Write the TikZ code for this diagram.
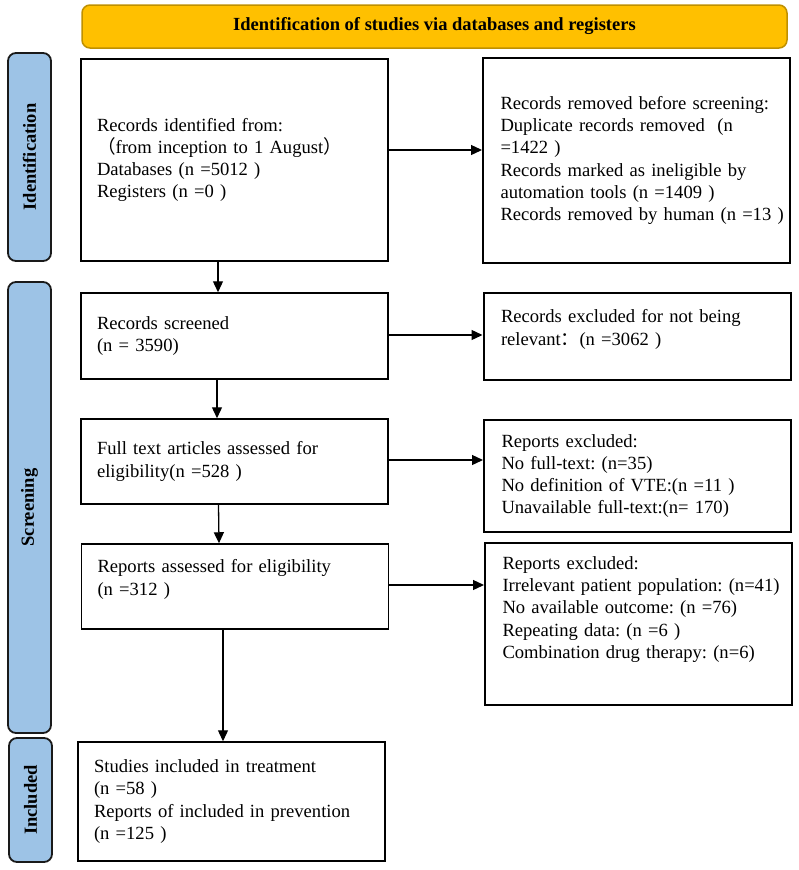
\documentclass[tikz,border=0pt]{standalone}
\usepackage{fontspec}
\setmainfont{Liberation Serif}
\newfontfamily\cjk{Noto Sans CJK SC}
\usetikzlibrary{arrows.meta}
\definecolor{labblue}{HTML}{9DC3E6}
\definecolor{bannergold}{HTML}{FFC000}
\definecolor{bannerline}{HTML}{BF9000}
\definecolor{labline}{HTML}{1A1A1A}
\frenchspacing
\begin{document}
\begin{tikzpicture}[x=1pt,y=-1pt,
  box/.style={draw=black, line width=1.5pt, fill=white, align=left,
    inner xsep=16pt, inner ysep=0pt, text width=275pt, minimum height=#1,
    font=\fontsize{18.6}{22.2}\selectfont},
  rbox/.style={box=#1, line width=2pt, inner xsep=17.5pt, text width=272pt},
  lab/.style={draw=labline, line width=1.8pt, fill=labblue, rounded corners=8pt,
    rotate=90, minimum width=#1, minimum height=43pt, inner sep=0pt,
    font=\fontsize{18.5}{20}\selectfont\bfseries},
  banner/.style={draw=bannerline, line width=1.5pt, fill=bannergold, rounded corners=8pt,
    minimum width=705pt, minimum height=43pt, inner sep=0pt,
    font=\fontsize{18.5}{20}\selectfont\bfseries},
  arr/.style={line width=1.3pt, -{Triangle[length=11pt,width=10pt]}}
]
\useasboundingbox (0,0) rectangle (799,870);

\node[banner] (ban) at (434.5,26.5) {Identification of studies via databases and registers};

\node[lab=208pt] (idlab) at (29.5,157) {Identification};
\node[lab=451pt] (scrlab) at (29.5,507.5) {Screening};
\node[lab=124pt] (inclab) at (30.5,800) {Included};

\node[box=202pt] (ident) at (234.5,160) {Records identified from:\\
\mbox{{\cjk （}from inception to 1 August{\cjk ）}}\\
Databases (n =5012 )\\
Registers (n =0 )};

\node[rbox=205pt] (removed) at (636.5,160.5) {\mbox{Records removed before screening:}\\
Duplicate records removed~ (n\\
=1422 )\\
\mbox{Records marked as ineligible by}\\
automation tools (n =1409 )\\
\mbox{Records removed by human (n =13 )}};

\node[box=86pt] (screened) at (234.5,336) {Records screened\\
(n = 3590)};

\node[rbox=87pt] (excl1) at (637,336.5) {Records excluded for not being\\
relevant{\cjk ：}(n =3062 )\\[-4pt]\mbox{}};

\node[box=85pt] (fulltext) at (234.5,461.5) {\mbox{Full text articles assessed for}\\
eligibility(n =528 )};

\node[rbox=112pt] (excl2) at (637.5,476) {Reports excluded:\\
No full-text: (n=35)\\
No definition of VTE:(n =11 )\\
Unavailable full-text:(n= 170)};

\node[box=85pt] (assessed) at (235,586.5) {\mbox{Reports assessed for eligibility}\\
(n =312 )\\[-4pt]\mbox{}};

\node[rbox=162pt] (excl3) at (638.5,624) {Reports excluded:\\
\mbox{Irrelevant patient population: (n=41)}\\
No available outcome: (n =76)\\
Repeating data: (n =6 )\\
\mbox{Combination drug therapy: (n=6)}\\[11pt]\mbox{}};

\node[box=119pt] (included) at (231.5,801.5) {Studies included in treatment\\
(n =58 )\\
\mbox{Reports of included in prevention}\\
(n =125 )};

% vertical arrows
\draw[arr] ([xshift=-16.5pt]ident.south) -- ([xshift=-16.5pt]screened.north);
\draw[arr] ([xshift=-17.5pt]screened.south) -- ([xshift=-17.5pt]fulltext.north);
\draw[arr] ([xshift=-16pt]fulltext.south) -- ([xshift=-16pt]assessed.north);
\coordinate (d1) at ([xshift=-12pt]assessed.south);
\draw[arr] (d1) -- (d1 |- included.north);

% horizontal arrows
\coordinate (h1) at ([yshift=10pt]ident.east);
\draw[arr] (h1) -- (h1 -| removed.west);
\coordinate (h2) at ([yshift=1pt]screened.east);
\draw[arr] (h2) -- (h2 -| excl1.west);
\coordinate (h3) at ([yshift=1.5pt]fulltext.east);
\draw[arr] (h3) -- (h3 -| excl2.west);
\coordinate (h4) at ([yshift=1.5pt]assessed.east);
\draw[arr] (h4) -- (h4 -| excl3.west);
\end{tikzpicture}
\end{document}
